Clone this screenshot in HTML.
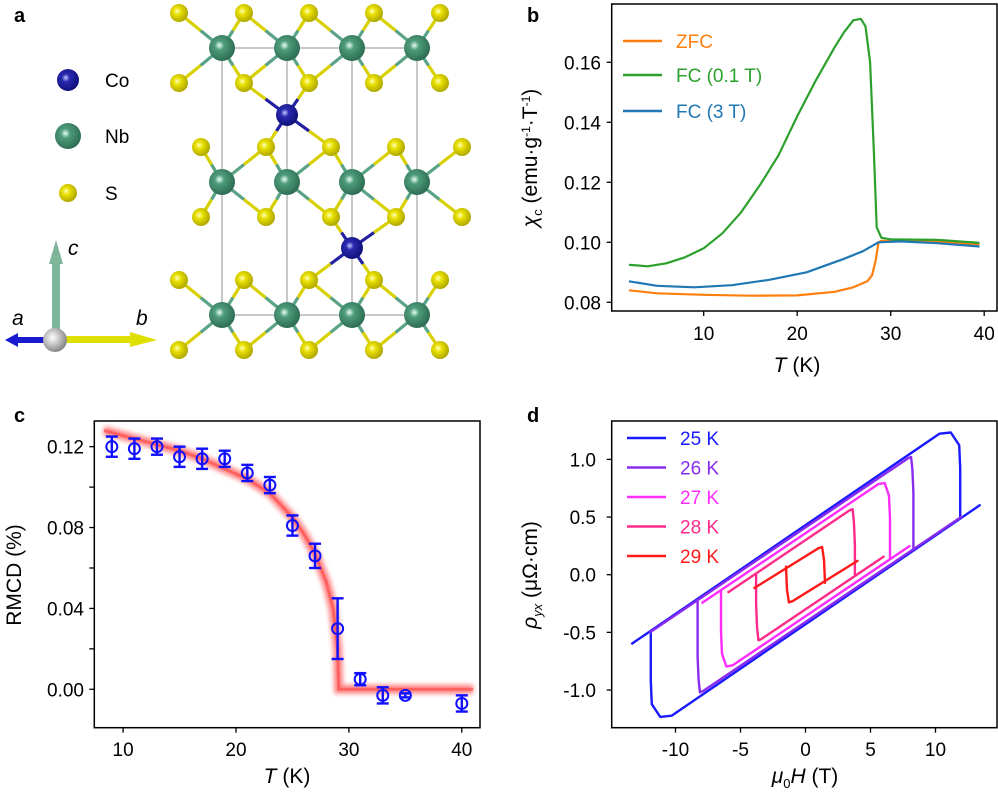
<!DOCTYPE html>
<html><head><meta charset="utf-8"><style>
body{margin:0;background:#fff}
svg{display:block;font-family:"Liberation Sans",sans-serif}
</style></head><body>
<svg id="fig" width="998" height="795" viewBox="0 0 998 795">
<defs>
<radialGradient id="gCo" cx="40%" cy="40%" r="60%"><stop offset="0" stop-color="#c8c8ff"/><stop offset="0.3" stop-color="#2a2ab0"/><stop offset="1" stop-color="#10107a"/></radialGradient>
<radialGradient id="gNb" cx="40%" cy="40%" r="60%"><stop offset="0" stop-color="#e8fff4"/><stop offset="0.3" stop-color="#4f9c7c"/><stop offset="1" stop-color="#2e6e54"/></radialGradient>
<radialGradient id="gS" cx="40%" cy="40%" r="60%"><stop offset="0" stop-color="#ffffc0"/><stop offset="0.35" stop-color="#e8e000"/><stop offset="1" stop-color="#b0a800"/></radialGradient>
<radialGradient id="gO" cx="40%" cy="40%" r="60%"><stop offset="0" stop-color="#fff"/><stop offset="1" stop-color="#888"/></radialGradient>
<filter id="blur" x="-5%" y="-5%" width="110%" height="110%"><feGaussianBlur stdDeviation="2.2"/></filter>
</defs>
<g id="pa"></g>
<g id="pb"></g>
<g id="pc"></g>
<g id="pd"></g>
</svg>
<script>
// ---------- Panel b data ----------
const zfcT=[2,5,10,15,20,24,26,27.5,28,28.4,28.7,29,35,39.5];
const zfcV=[0.084,0.083,0.0825,0.0822,0.0823,0.0835,0.085,0.087,0.089,0.094,0.1,0.1005,0.1002,0.0993];
const fc01T=[2,4,6,8,10,12,14,16,18,20,22,24,25,26,26.8,27.3,27.8,28.2,28.5,29,30,35,39.5];
const fc01V=[0.0925,0.092,0.093,0.095,0.098,0.103,0.11,0.119,0.129,0.142,0.154,0.165,0.17,0.174,0.1745,0.172,0.16,0.13,0.105,0.1015,0.101,0.1008,0.0998];
const fc3T=[2,5,9,13,17,21,25,27,28.7,31,35,39.5];
const fc3V=[0.087,0.0855,0.085,0.0857,0.0875,0.09,0.0945,0.097,0.1,0.1003,0.0997,0.0986];
const bXTicks=[10,20,30,40];
const bYTicks=[0.08,0.10,0.12,0.14,0.16];
// ---------- Panel c data ----------
const rmcdT=[9,11,13,15,17,19,21,23,25,27,29,31,33,35,40];
const rmcdV=[0.12,0.119,0.12,0.115,0.114,0.114,0.107,0.101,0.081,0.066,0.03,0.005,-0.003,-0.003,-0.007];
const rmcdErr=[0.005,0.005,0.004,0.005,0.005,0.004,0.004,0.004,0.005,0.006,0.015,0.003,0.004,0.001,0.004];
const fitT=[8.3,11,13,15,17,19,21,23,25,26,27,28,28.6,29,29.1,41];
const fitV=[0.128,0.124,0.121,0.118,0.114,0.109,0.104,0.097,0.085,0.077,0.067,0.053,0.04,0.02,0,0];
const cXTicks=[10,20,30,40];
const cYTicks=[0,0.04,0.08,0.12];
const cYMinor=[0.02,0.06,0.10];
// ---------- Panel d data ----------
const loopLabels=["25 K","26 K","27 K","28 K","29 K"];
const loopHc=[11.9,8.3,6.5,3.8,1.5];
const loopOffset=[0.43,0.41,0.36,0.3,0.16];
const loopHmax=[13.4,12,8,6,4];
const loopSlope=[0.077,0.076,0.076,0.076,0.07];
const loopRound=[1.6,0.4,0.9,0.4,0.5];
const dXTicks=[-10,-5,0,5,10];
const dYTicks=[-1.0,-0.5,0.0,0.5,1.0];

const NS="http://www.w3.org/2000/svg";
function mk(tag,attrs,parent,text){const e=document.createElementNS(NS,tag);for(const k in attrs)e.setAttribute(k,attrs[k]);if(text!==undefined)e.textContent=text;parent.appendChild(e);return e;}

// ---------- Panel a ----------
const pa=document.getElementById('pa');
let t=mk('text',{x:14,y:22,'font-size':20,'font-weight':'bold'},pa,'a');


const cell=mk('g',{stroke:'#777','stroke-width':0.8,fill:'none'},pa);


mk('rect',{x:222,y:48,width:195,height:267},cell);
mk('line',{x1:287,y1:48,x2:287,y2:315},cell);
mk('line',{x1:352,y1:48,x2:352,y2:315},cell);
const atoms=[];
[48,182,315].forEach(y=>[222,287,352,417].forEach(x=>atoms.push({x,y,t:'Nb'})));
[13,83,280,350].forEach(y=>[179,244,309,374,440].forEach(x=>atoms.push({x,y,t:'S'})));
[147,217].forEach(y=>[201,266,331,396,462].forEach(x=>atoms.push({x,y,t:'S'})));
atoms.push({x:287,y:115,t:'Co'});atoms.push({x:352,y:248,t:'Co'});
const col={Nb:'#5aa386',S:'#d8d000',Co:'#2020a0'};
const rad={Nb:13,S:9,Co:11};
const bonds=mk('g',{'stroke-width':3.2,'stroke-linecap':'butt'},pa);


atoms.forEach(a=>{if(a.t==='S')return;atoms.forEach(b=>{if(b.t!=='S')return;const d=Math.hypot(a.x-b.x,a.y-b.y);if(d<60){const mx=(a.x+b.x)/2,my=(a.y+b.y)/2;mk('line',{x1:a.x,y1:a.y,x2:mx,y2:my,stroke:col[a.t]},bonds);mk('line',{x1:mx,y1:my,x2:b.x,y2:b.y,stroke:col.S},bonds);}});});
const ag=mk('g',{},pa);


atoms.forEach(a=>{const c=mk('circle',{cx:a.x,cy:a.y,r:rad[a.t],fill:'url(#g'+a.t+')'},ag);});
[['Co',80],['Nb',136],['S',193]].forEach(([k,y])=>{const g=mk('g',{},pa);mk('circle',{cx:68,cy:y,r:rad[k],fill:'url(#g'+k+')'},g);mk('text',{x:105,y:y+7,'font-size':19},g,k);});
const ax=mk('g',{},pa);


mk('rect',{x:52,y:262,width:8,height:70,fill:'#7fb59a'},ax);
mk('polygon',{points:'49,264 56,240 63,264',fill:'#7fb59a'},ax);
mk('rect',{x:58,y:336,width:78,height:7,fill:'#e0e000'},ax);
mk('polygon',{points:'130,332 157,340 130,347',fill:'#e0e000'},ax);
mk('rect',{x:18,y:337,width:36,height:6,fill:'#1a1ad0'},ax);
mk('polygon',{points:'18,333 5,340 18,347',fill:'#1a1ad0'},ax);
mk('circle',{cx:55,cy:340,r:12,fill:'url(#gO)'},ax);
mk('text',{x:68,y:255,'font-size':21,'font-style':'italic'},ax,'c');
mk('text',{x:12,y:325,'font-size':21,'font-style':'italic'},ax,'a');
mk('text',{x:136,y:325,'font-size':21,'font-style':'italic'},ax,'b');

// ---------- generic axes helper ----------
function frame(p,L,T,R,B){const r=mk('rect',{x:L,y:T,width:R-L,height:B-T,fill:'none',stroke:'#000','stroke-width':1.5},p);}
function xticks(p,ticks,sx,B,labY,fmt){ticks.forEach(v=>{const x=sx(v);mk('line',{x1:x,y1:B,x2:x,y2:B+5,stroke:'#000','stroke-width':1.3},p);const tt=mk('text',{x:x,y:labY,'font-size':19,'text-anchor':'middle'},p,fmt(v));});}
function yticks(p,ticks,sy,L,labX,fmt){ticks.forEach(v=>{const y=sy(v);mk('line',{x1:L-5,y1:y,x2:L,y2:y,stroke:'#000','stroke-width':1.3},p);const tt=mk('text',{x:labX,y:y+7,'font-size':19,'text-anchor':'end'},p,fmt(v));});}
function pathOf(xs,ys,sx,sy){return xs.map((v,i)=>(i?'L':'M')+sx(v).toFixed(1)+','+sy(ys[i]).toFixed(1)).join('');}

// ---------- Panel b ----------
const pb=document.getElementById('pb');
const bx=v=>610.2+9.35*v, by=v=>242.3-(v-0.10)*3000;
t=mk('text',{x:527,y:22,'font-size':20,'font-weight':'bold'},pb,'b');


frame(pb,611.7,4,997,311);
xticks(pb,bXTicks,bx,311,340,v=>String(v));
yticks(pb,bYTicks,by,611.7,601,v=>v.toFixed(2));
[[zfcT,zfcV,'#ff7f0e','zfc-curve'],[fc01T,fc01V,'#2ca02c','fc-0.1t-curve'],[fc3T,fc3V,'#1f77b4','fc-3t-curve']].forEach(([xs,ys,c,n])=>{const p=mk('path',{d:pathOf(xs,ys,bx,by),fill:'none',stroke:c,'stroke-width':2.2,'stroke-linejoin':'round'},pb);});
[['ZFC','#ff7f0e',41],['FC (0.1 T)','#2ca02c',75],['FC (3 T)','#1f77b4',111]].forEach(([s,c,y])=>{const g=mk('g',{},pb);mk('line',{x1:623,y1:y,x2:662,y2:y,stroke:c,'stroke-width':2.5},g);mk('text',{x:676,y:y+7,'font-size':19,fill:c},g,s);});
t=mk('text',{x:797,y:372,'font-size':21,'text-anchor':'middle'},pb);


t.innerHTML='<tspan font-style="italic">T</tspan> (K)';
t=mk('text',{transform:'translate(537,158) rotate(-90)','font-size':21,'text-anchor':'middle'},pb);


t.innerHTML='<tspan font-style="italic">χ</tspan><tspan font-size="13" dy="5">c</tspan><tspan dy="-5"> (emu·g</tspan><tspan font-size="12" dy="-7">-1</tspan><tspan dy="7">·T</tspan><tspan font-size="12" dy="-7">-1</tspan><tspan dy="7">)</tspan>';

// ---------- Panel c ----------
const pc=document.getElementById('pc');
const cx=v=>236-(20-v)*11.29, cy=v=>689.3-v*2022;
t=mk('text',{x:14,y:422,'font-size':20,'font-weight':'bold'},pc,'c');


frame(pc,94.3,421,480,727.7);
xticks(pc,cXTicks,cx,727.7,756,v=>String(v));
yticks(pc,cYTicks,cy,94.3,84,v=>v.toFixed(2));
cYMinor.forEach(v=>mk('line',{x1:89.3,y1:cy(v),x2:94.3,y2:cy(v),stroke:'#000','stroke-width':1.3},pc));
t=mk('path',{d:pathOf(fitT,fitV,cx,cy),fill:'none',stroke:'#ff2020','stroke-width':9,'stroke-opacity':0.55,filter:'url(#blur)'},pc);


mk('path',{d:pathOf(fitT,fitV,cx,cy),fill:'none',stroke:'#ff5050','stroke-width':3,'stroke-opacity':0.7},pc);
rmcdT.forEach((T,i)=>{const g=mk('g',{stroke:'#1010ff','stroke-width':2.4,fill:'none'},pc);const x=cx(T),y=cy(rmcdV[i]),y1=cy(rmcdV[i]+rmcdErr[i]),y2=cy(rmcdV[i]-rmcdErr[i]);mk('line',{x1:x,y1:y1,x2:x,y2:y2},g);mk('line',{x1:x-6,y1:y1,x2:x+6,y2:y1},g);mk('line',{x1:x-6,y1:y2,x2:x+6,y2:y2},g);mk('circle',{cx:x,cy:y,r:5.5,'stroke-width':2},g);});
t=mk('text',{x:287,y:783,'font-size':21,'text-anchor':'middle'},pc);


t.innerHTML='<tspan font-style="italic">T</tspan> (K)';
t=mk('text',{transform:'translate(21,575) rotate(-90)','font-size':21,'text-anchor':'middle'},pc,'RMCD (%)');



// ---------- Panel d ----------
const pd=document.getElementById('pd');
const dx=v=>805.5+13*v, dy=v=>574.7-v*115.3;
t=mk('text',{x:527,y:422,'font-size':20,'font-weight':'bold'},pd,'d');


frame(pd,611.7,421,997,727.7);
xticks(pd,dXTicks,dx,727.7,756,v=>String(v));
yticks(pd,dYTicks,dy,611.7,596,v=>v.toFixed(1));
const loopCols=['#1a1aff','#8a2cf0','#ff2cff','#ff2a8a','#ff1a1a'];
loopLabels.forEach((lab,i)=>{const hc=loopHc[i],o=loopOffset[i],hm=loopHmax[i],s=loopSlope[i],rd=loopRound[i];const up=h=>o+s*h, lo=h=>-o+s*h;
const pk=up(hc-rd);
const H=[-hm,hc-rd,hc-rd*0.45,hc-0.08,hc,hc,hm],Y=[up(-hm),pk,pk+0.01,pk-0.1,pk-0.3,lo(hc),lo(hm)];
const tr=-pk;
const H2=[hm,-hc+rd,-hc+rd*0.45,-hc+0.08,-hc,-hc],Y2=[lo(hm),lo(-hc+rd),lo(-hc+rd)-0.01,lo(-hc+rd)+0.1,lo(-hc+rd)+0.3,up(-hc)];
const p=mk('path',{d:pathOf(H,Y,dx,dy)+pathOf(H2,Y2,dx,dy).replace(/^M[^L]*/,''),fill:'none',stroke:loopCols[i],'stroke-width':2.4,'stroke-linejoin':'round'},pd);});
loopLabels.forEach((lab,i)=>{const y=438+i*29.5;const g=mk('g',{},pd);mk('line',{x1:627,y1:y,x2:666,y2:y,stroke:loopCols[i],'stroke-width':2.5},g);mk('text',{x:680,y:y+7,'font-size':19,fill:loopCols[i]},g,lab);});
t=mk('text',{x:805,y:783,'font-size':21,'text-anchor':'middle'},pd);


t.innerHTML='<tspan font-style="italic">μ</tspan><tspan font-size="13" dy="5">0</tspan><tspan font-style="italic" dy="-5">H</tspan> (T)';
t=mk('text',{transform:'translate(537,575) rotate(-90)','font-size':21,'text-anchor':'middle'},pd);


t.innerHTML='<tspan font-style="italic">ρ</tspan><tspan font-size="13" dy="5" font-style="italic">yx</tspan><tspan dy="-5"> (μΩ·cm)</tspan>';
</script>
</body></html>
